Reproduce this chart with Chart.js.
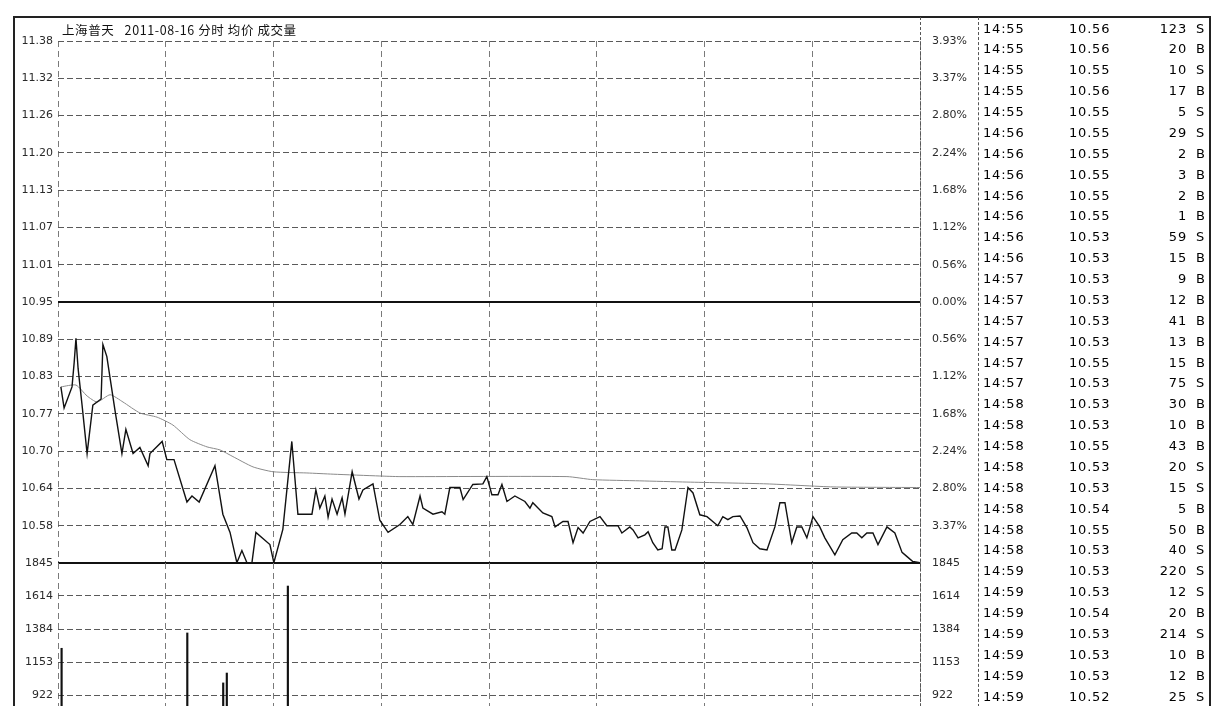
<!DOCTYPE html>
<html>
<head>
<meta charset="utf-8">
<script src="https://cdn.jsdelivr.net/npm/chart.js@4.4.0/dist/chart.umd.min.js"></script>
<style>
  html, body { margin: 0; padding: 0; background: #fff; width: 1226px; height: 706px; overflow: hidden; }
  canvas { position: absolute; left: 0; }
  #frame { position: absolute; left: 13px; top: 16px; width: 1198px; height: 700px; border: 2px solid #222; border-bottom: none; box-sizing: border-box; }
  .vsep { position: absolute; top: 17px; height: 700px; width: 0; border-left: 1px dashed #555; }
  #title { position: absolute; left: 62px; top: 20px; font: 12.5px "Noto Sans CJK SC", "DejaVu Sans", sans-serif; color: #111; letter-spacing: 0.6px; white-space: pre; }
  #ticks { position: absolute; left: 0; top: 18.5px; font: 13px "DejaVu Sans", sans-serif; color: #000; }
  .row { position: absolute; height: 20.875px; line-height: 20.875px; left: 0; width: 1226px; }
  .row span { position: absolute; letter-spacing: 0.8px; }
</style>
</head>
<body>
<div id="frame"></div>
<canvas id="price" width="1226" height="580" style="top:0"></canvas>
<canvas id="vol" width="1226" height="300" style="top:540px"></canvas>
<div class="vsep" style="left:920px"></div>
<div class="vsep" style="left:978px"></div>
<div id="title">上海普天   2011-08-16 分时 均价 成交量</div>
<div id="ticks"></div>
<script>
// 分时价格 (分钟, 价格)
const priceMinutes = [0.8, 1.7, 3.9, 4.5, 5.0, 5.6, 6.7, 8.1, 9.7, 12.0, 12.5, 13.6, 15.9, 17.8, 18.9, 20.9, 22.8, 25.1, 25.6, 29.0,
  30.3, 32.3, 35.9, 37.3, 39.3, 43.7, 45.9, 47.9, 49.8, 51.2, 52.6, 54.0, 55.1, 59.0, 60.1, 62.6, 65.1, 66.8, 70.7, 71.8,
  72.9, 74.3, 75.2, 76.3, 77.7, 79.1, 79.9, 81.9, 83.8, 84.9, 87.7, 89.6, 91.9, 95.2, 97.4, 98.8, 100.8, 101.6, 104.4, 106.9,
  107.7, 109.1, 111.9, 112.8, 115.5, 118.3, 119.4, 120.8, 122.5, 123.6, 125.0, 127.2, 130.0, 131.4, 132.2, 135.0, 137.5, 138.4, 140.6, 142.0,
  143.4, 144.8, 146.2, 148.1, 150.9, 152.8, 155.9, 157.0, 159.2, 160.1, 161.5, 163.4, 164.3, 165.6, 167.0, 168.2, 169.0, 169.8, 170.9, 171.8,
  173.7, 175.4, 176.8, 178.7, 180.7, 183.7, 185.1, 186.5, 187.9, 189.9, 191.8, 193.5, 195.4, 197.4, 199.6, 201.0, 202.4, 203.2, 204.3, 205.7,
  207.1, 208.5, 210.2, 212.1, 213.5, 216.3, 218.5, 221.0, 222.4, 223.8, 225.2, 226.9, 228.3, 230.8, 233.0, 235.0, 236.4, 238.0, 240];
const priceValues = [10.81, 10.775, 10.81, 10.85, 10.89, 10.84, 10.78, 10.70, 10.78, 10.79, 10.88, 10.86, 10.77, 10.70, 10.74, 10.70, 10.71, 10.68, 10.70, 10.72,
  10.69, 10.69, 10.62, 10.63, 10.62, 10.68, 10.60, 10.57, 10.52, 10.54, 10.52, 10.52, 10.57, 10.55, 10.52, 10.575, 10.72, 10.60, 10.60, 10.64,
  10.61, 10.63, 10.595, 10.625, 10.60, 10.627, 10.60, 10.67, 10.625, 10.64, 10.65, 10.59, 10.57, 10.583, 10.596, 10.583, 10.63, 10.61, 10.60, 10.604,
  10.60, 10.644, 10.644, 10.624, 10.649, 10.65, 10.662, 10.632, 10.632, 10.649, 10.621, 10.63, 10.621, 10.61, 10.619, 10.602, 10.596, 10.579, 10.588, 10.588,
  10.553, 10.578, 10.569, 10.588, 10.596, 10.581, 10.581, 10.569, 10.579, 10.574, 10.561, 10.566, 10.571, 10.553, 10.541, 10.543, 10.579, 10.579, 10.541, 10.541,
  10.574, 10.644, 10.635, 10.599, 10.596, 10.581, 10.596, 10.591, 10.596, 10.597, 10.578, 10.553, 10.543, 10.541, 10.579, 10.619, 10.619, 10.591, 10.553, 10.579,
  10.579, 10.561, 10.596, 10.579, 10.561, 10.533, 10.558, 10.569, 10.569, 10.561, 10.569, 10.569, 10.55, 10.579, 10.569, 10.537, 10.53, 10.522, 10.52];

// 均价线
const avgMinutes = [0.8, 5.0, 8.1, 10.9, 14.5, 18.1, 22.8, 27.6, 32.0, 36.7, 41.5, 45.1, 48.7, 54.3, 59.9, 69.3, 76.6, 89.6, 95.2, 141.7, 148.9, 162.0, 175.1, 197.4, 215.8, 240];
const avgValues = [10.81, 10.813, 10.795, 10.785, 10.797, 10.785, 10.767, 10.76, 10.747, 10.723, 10.711, 10.706, 10.695, 10.678, 10.67, 10.668, 10.666, 10.663, 10.662, 10.662, 10.657, 10.655, 10.653, 10.65, 10.645, 10.644];

// 成交量 (只画得到的几根)
const volMinutes = [1, 36, 46, 47, 64];
const volValues = [1249, 1356, 1007, 1076, 1684];

// 坐标刻度
const timeTicks = [0, 30, 60, 90, 120, 150, 180, 210, 240];
const prevClose = 10.95;
const priceTicks = [11.3805, 11.319, 11.2575, 11.196, 11.1345, 11.073, 11.0115, 10.95, 10.8885, 10.827, 10.7655, 10.704, 10.6425, 10.581, 10.5195];
const priceLabels = ["11.38", "11.32", "11.26", "11.20", "11.13", "11.07", "11.01", "10.95", "10.89", "10.83", "10.77", "10.70", "10.64", "10.58", ""];
const pctLabels = ["3.93%", "3.37%", "2.80%", "2.24%", "1.68%", "1.12%", "0.56%", "0.00%", "0.56%", "1.12%", "1.68%", "2.24%", "2.80%", "3.37%", ""];
const volTicks = [1845, 1614.4, 1383.75, 1153.1, 922.5, 691.9, 461.25, 230.6];
const volLabels = ["1845", "1614", "1384", "1153", "922", "692", "461", "231"];

// 逐笔成交
const tradeTimes = ["14:55", "14:55", "14:55", "14:55", "14:55", "14:56", "14:56", "14:56", "14:56", "14:56", "14:56", "14:56", "14:57", "14:57", "14:57", "14:57", "14:57",
  "14:57", "14:58", "14:58", "14:58", "14:58", "14:58", "14:58", "14:58", "14:58", "14:59", "14:59", "14:59", "14:59", "14:59", "14:59", "14:59"];
const tradePrices = ["10.56", "10.56", "10.55", "10.56", "10.55", "10.55", "10.55", "10.55", "10.55", "10.55", "10.53", "10.53", "10.53", "10.53", "10.53", "10.53", "10.55",
  "10.53", "10.53", "10.53", "10.55", "10.53", "10.53", "10.54", "10.55", "10.53", "10.53", "10.53", "10.54", "10.53", "10.53", "10.53", "10.52"];
const tradeVols = [123, 20, 10, 17, 5, 29, 2, 3, 2, 1, 59, 15, 9, 12, 41, 13, 15, 75, 30, 10, 43, 20, 15, 5, 50, 40, 220, 12, 20, 214, 10, 12, 25];
const tradeSides = ["S", "B", "S", "B", "S", "S", "B", "B", "B", "B", "S", "B", "B", "B", "B", "B", "B", "S", "B", "B", "B", "S", "S", "B", "B", "S", "S", "S", "B", "S", "B", "B", "S"];

const axisFont = { family: '"DejaVu Sans", sans-serif', size: 11 };
const gridColor = "#5a5a5a";

function fixTicks(list) {
  return (scale) => { scale.ticks = list.map(v => ({ value: v })); };
}

// 价格图
new Chart(document.getElementById("price"), {
  type: "line",
  data: {
    datasets: [
      { data: priceMinutes.map((m, i) => ({ x: m, y: priceValues[i] })), borderColor: "#111", borderWidth: 1.4, pointRadius: 0, tension: 0 },
      { data: avgMinutes.map((m, i) => ({ x: m, y: avgValues[i] })), borderColor: "#8a8a8a", borderWidth: 1, pointRadius: 0, tension: 0.2 }
    ]
  },
  options: {
    responsive: false,
    animation: false,
    layout: { padding: { left: 14, right: 246, top: 41, bottom: 17 } },
    plugins: { legend: { display: false }, tooltip: { enabled: false } },
    scales: {
      x: {
        type: "linear", min: 0, max: 240,
        afterBuildTicks: fixTicks(timeTicks),
        afterFit: (s) => { s.height = 0; },
        ticks: { display: false },
        grid: { color: "#7a7a7a", drawTicks: false },
        border: { display: false, dash: [6, 4] }
      },
      y: {
        position: "left", min: 10.5195, max: 11.3805,
        afterBuildTicks: fixTicks(priceTicks),
        afterFit: (s) => { s.width = 44; },
        ticks: { autoSkip: false, padding: 5, color: "#2a2a2a", font: axisFont, callback: (v, i) => priceLabels[i] },
        grid: { color: gridColor, lineWidth: 1, drawTicks: false },
        border: { display: false, dash: [6, 3] }
      },
      base: {
        position: "left", min: 10.5195, max: 11.3805,
        afterBuildTicks: fixTicks([prevClose, 10.5195]),
        afterFit: (s) => { s.width = 0; },
        ticks: { display: false },
        grid: { color: "#111", lineWidth: 2, drawTicks: false },
        border: { display: false }
      },
      pct: {
        position: "right", min: 10.5195, max: 11.3805,
        afterBuildTicks: fixTicks(priceTicks),
        afterFit: (s) => { s.width = 60; },
        ticks: { autoSkip: false, padding: 4, color: "#2a2a2a", font: axisFont, callback: (v, i) => pctLabels[i] },
        grid: { display: false },
        border: { display: false }
      }
    }
  }
});

// 成交量图
new Chart(document.getElementById("vol"), {
  type: "bar",
  data: {
    datasets: [
      { data: volMinutes.map((m, i) => ({ x: m, y: volValues[i] })), backgroundColor: "#111", barThickness: 1.5 }
    ]
  },
  options: {
    responsive: false,
    animation: false,
    layout: { padding: { left: 14, right: 246, top: 23, bottom: 13 } },
    plugins: { legend: { display: false }, tooltip: { enabled: false } },
    scales: {
      x: {
        type: "linear", min: 0, max: 240, offset: false,
        afterBuildTicks: fixTicks(timeTicks),
        afterFit: (s) => { s.height = 0; },
        ticks: { display: false },
        grid: { color: "#7a7a7a", drawTicks: false, offset: false },
        border: { display: false, dash: [6, 4] }
      },
      y: {
        position: "left", min: 0, max: 1845,
        afterBuildTicks: fixTicks(volTicks),
        afterFit: (s) => { s.width = 44; },
        ticks: { autoSkip: false, padding: 5, color: "#2a2a2a", font: axisFont, callback: (v, i) => volLabels[i] },
        grid: { color: (c) => c.tick && c.tick.value === 1845 ? "rgba(0,0,0,0)" : gridColor, drawTicks: false },
        border: { display: false, dash: [6, 3] }
      },
      vr: {
        position: "right", min: 0, max: 1845,
        afterBuildTicks: fixTicks(volTicks),
        afterFit: (s) => { s.width = 60; },
        ticks: { autoSkip: false, padding: 4, color: "#2a2a2a", font: axisFont, callback: (v, i) => volLabels[i] },
        grid: { display: false },
        border: { display: false }
      }
    }
  }
});

// 右侧逐笔表
const box = document.getElementById("ticks");
tradeTimes.forEach((t, i) => {
  const row = document.createElement("div");
  row.className = "row";
  row.style.top = (i * 20.875) + "px";
  row.innerHTML =
    '<span style="left:983px">' + t + '</span>' +
    '<span style="left:1069px">' + tradePrices[i] + '</span>' +
    '<span style="right:' + (1226 - 1187) + 'px;text-align:right">' + tradeVols[i] + '</span>' +
    '<span style="left:1196px">' + tradeSides[i] + '</span>';
  box.appendChild(row);
});
</script>
</body>
</html>
